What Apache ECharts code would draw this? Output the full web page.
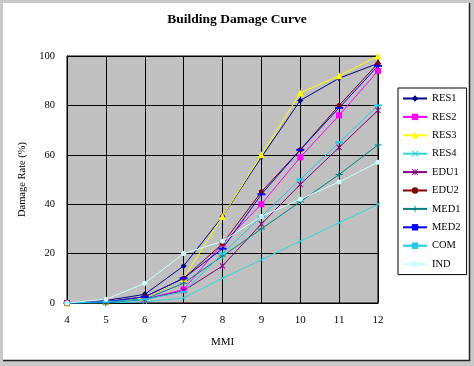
<!DOCTYPE html>
<html>
<head>
<meta charset="utf-8">
<script src="https://cdn.jsdelivr.net/npm/echarts@6/dist/echarts.min.js"></script>
<style>
html,body{margin:0;padding:0;background:#c8c8c8;}
#c{width:474px;height:366px;}
</style>
</head>
<body>
<div id="c"></div>
<script>
const mmi = [4, 5, 6, 7, 8, 9, 10, 11, 12];
const seriesNames = ['RES1','RES2','RES3','RES4','EDU1','EDU2','MED1','MED2','COM','IND'];
const RES1 = [0, 1, 3.5, 15, 35, 59, 82, 91, 97];
const RES2 = [0, 0.5, 1.5, 5.5, 24, 40, 59, 76, 94];
const RES3 = [0, 0.5, 2, 10, 35, 60, 85, 92, 100];
const RES4 = [0, 0, 0.5, 2, 10, 17.5, 25, 32.5, 40];
const EDU1 = [0, 0.5, 1.5, 5, 15, 32, 48, 63, 78];
const EDU2 = [0, 0.5, 2.5, 10, 24, 45, 62, 80, 97];
const MED1 = [0, 0, 1.5, 8, 19, 30, 41, 52, 64];
const MED2 = [0, 0.5, 2.5, 10, 22, 44, 62, 79, 96];
const COM  = [0, 0.5, 1.5, 4.5, 20, 35, 50, 65, 80];
const IND  = [0, 1.5, 8, 20, 25, 35, 42, 49, 57];
const yTicks = [0, 20, 40, 60, 80, 100];

const values = [RES1, RES2, RES3, RES4, EDU1, EDU2, MED1, MED2, COM, IND];
const colors = ['#000080','#ff00ff','#ffff00','#2fd6d6','#800080','#800000','#008080','#0000ff','#22c8e8','#ccffff'];
const xPath = 'path://M1,0L5,4L9,0L10,1L6,5L10,9L9,10L5,6L1,10L0,9L4,5L0,1Z';
const starPath = 'path://M1,0L5,4L9,0L10,1L6,5L10,9L9,10L5,6L1,10L0,9L4,5L0,1Z M4.3,0H5.7V10H4.3Z';
const plusPath = 'path://M4.3,0H5.7V4.3H10V5.7H5.7V10H4.3V5.7H0V4.3H4.3Z';
const symbols = ['diamond','rect','triangle',xPath,starPath,'circle',plusPath,'rect','rect','circle'];
const sizes = [6,6,7,5,6,5,7,[8,2],[8,2],5];

const font = 'Liberation Serif, Times New Roman, serif';
const chart = echarts.init(document.getElementById('c'));
chart.setOption({
  animation: false,
  backgroundColor: 'transparent',
  graphic: [
    {type:'rect', z:-10, shape:{x:3,y:3,width:466,height:357}, style:{fill:'#fff', stroke:null}},
    {type:'polyline', z:-9, shape:{points:[[469.5,3],[469.5,360.5],[3,360.5]]}, style:{stroke:'#222', lineWidth:1.5, fill:null}}
  ],
  title: {
    text: 'Building Damage Curve', left: 'center', top: 8,
    textStyle: {fontFamily: font, fontWeight: 'bold', fontSize: 13.5, color: '#000'}
  },
  legend: {
    orient: 'vertical', left: 398, top: 88,
    data: seriesNames,
    itemWidth: 24, itemHeight: 8, itemGap: 7.4,
    padding: [5, 6, 5, 4],
    borderColor: '#000', borderWidth: 1, backgroundColor: '#fff',
    textStyle: {fontFamily: font, fontSize: 10.5, color: '#000'}
  },
  grid: {left: 67, right: 96, top: 56, bottom: 63, show: true, backgroundColor: '#c0c0c0', borderColor: '#000', borderWidth: 1},
  xAxis: {
    type: 'value', min: 4, max: 12, interval: 1,
    name: 'MMI', nameLocation: 'middle', nameGap: 34,
    nameTextStyle: {fontFamily: font, fontSize: 11, color: '#000'},
    axisLine: {show: true, lineStyle: {color: '#000'}},
    axisTick: {show: false},
    axisLabel: {fontFamily: font, fontSize: 11, color: '#000', margin: 12},
    splitLine: {show: true, lineStyle: {color: '#000', width: 1}}
  },
  yAxis: {
    type: 'value', min: 0, max: 100, interval: 20,
    name: 'Damage Rate (%)', nameLocation: 'middle', nameGap: 39,
    nameTextStyle: {fontFamily: font, fontSize: 10.5, color: '#000'},
    axisLine: {show: true, lineStyle: {color: '#000'}},
    axisTick: {show: false},
    axisLabel: {fontFamily: font, fontSize: 10.5, color: '#000', margin: 12,
      formatter: v => yTicks.includes(v) ? String(v) : ''},
    splitLine: {show: true, lineStyle: {color: '#000', width: 1}}
  },
  series: seriesNames.map((n, i) => ({
    name: n, type: 'line',
    data: mmi.map((x, j) => [x, values[i][j]]),
    symbol: symbols[i], symbolSize: sizes[i], showAllSymbol: true,
    lineStyle: {color: colors[i], width: 1},
    itemStyle: {color: colors[i], borderWidth: 0},
    emphasis: {disabled: true}
  }))
});
</script>
</body>
</html>
